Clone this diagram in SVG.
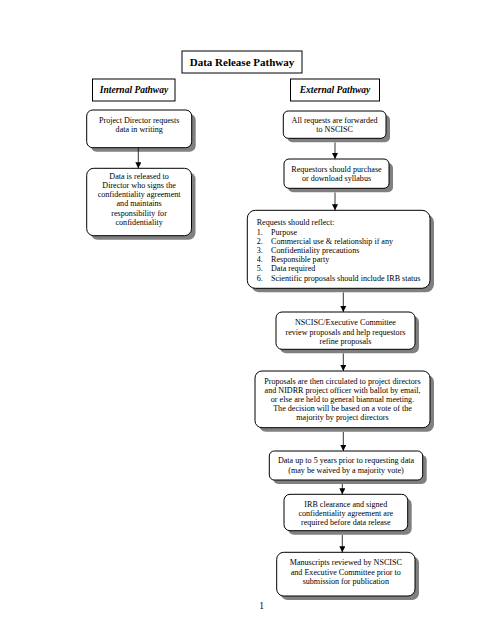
<svg xmlns="http://www.w3.org/2000/svg" width="495" height="640" viewBox="0 0 495 640">
<defs>
<marker id="ah" viewBox="0 0 6 6" refX="6" refY="3" markerWidth="6" markerHeight="6" markerUnits="userSpaceOnUse" orient="auto">
<path d="M0,0 L6,3 L0,6 Z" fill="#000"/>
</marker>
</defs>
<style>
text{font-family:"Liberation Serif","Times New Roman",serif;fill:#000}
.t{font-size:8.1px;text-anchor:middle}
.l{font-size:8.1px}
.hd{fill:#fff;stroke:#000;stroke-width:1}
.sh{fill:#808080;stroke:none}
.bx{fill:#fff;stroke:#000;stroke-width:1}
.cn line{stroke:#000;stroke-width:0.8;marker-end:url(#ah)}
</style>
<rect width="495" height="640" fill="#fff"/>
<g id="title">
<rect class="hd" x="182" y="51" width="120" height="22"/>
<text x="242" y="66" text-anchor="middle" font-size="11" font-weight="bold">Data Release Pathway</text>
</g>
<g id="internal-head">
<rect class="hd" x="92.5" y="79" width="82.5" height="22"/>
<text x="134" y="93.3" text-anchor="middle" font-size="9.5" font-weight="bold" font-style="italic">Internal Pathway</text>
</g>
<g id="external-head">
<rect class="hd" x="290.5" y="79" width="89" height="22"/>
<text x="335" y="93.3" text-anchor="middle" font-size="9.5" font-weight="bold" font-style="italic">External Pathway</text>
</g>
<g id="n-int1">
<rect class="sh" x="90.7" y="114" width="105" height="37.7" rx="6"/>
<rect class="bx" x="86.7" y="110" width="105" height="37.7" rx="6"/>
<text class="t" x="139.2" y="122.7">Project Director requests<tspan x="139.2" dy="9.3">data in writing</tspan></text>
</g>
<g id="n-int2">
<rect class="sh" x="90.7" y="172.3" width="104.8" height="67.4" rx="7"/>
<rect class="bx" x="86.7" y="168.3" width="104.8" height="67.4" rx="7"/>
<text class="t" x="139.1" y="178.5">Data is released to<tspan x="139.1" dy="9.3">Director who signs the</tspan><tspan x="139.1" dy="9.3">confidentiality agreement</tspan><tspan x="139.1" dy="9.3">and maintains</tspan><tspan x="139.1" dy="9.3">responsibility for</tspan><tspan x="139.1" dy="9.3">confidentiality</tspan></text>
</g>
<g id="n-ext1">
<rect class="sh" x="287.3" y="115" width="102.7" height="27.3" rx="5"/>
<rect class="bx" x="283.3" y="111" width="102.7" height="27.3" rx="5"/>
<text class="t" x="334.6" y="123.4">All requests are forwarded<tspan x="334.6" dy="8.6">to NSCISC</tspan></text>
</g>
<g id="n-ext2">
<rect class="sh" x="288" y="163" width="105" height="29.3" rx="5"/>
<rect class="bx" x="284" y="159" width="105" height="29.3" rx="5"/>
<text class="t" x="336.5" y="172">Requestors should purchase<tspan x="336.5" dy="9">or download syllabus</tspan></text>
</g>
<g id="n-ext3">
<rect class="sh" x="251.3" y="214.3" width="182.7" height="78" rx="8"/>
<rect class="bx" x="247.3" y="210.3" width="182.7" height="78" rx="8"/>
<text class="l" x="256.7" y="225.4">Requests should reflect:</text>
<text class="l" x="256.7" y="234.6">1.</text><text class="l" x="271" y="234.6">Purpose</text>
<text class="l" x="256.7" y="243.8">2.</text><text class="l" x="271" y="243.8">Commercial use &amp; relationship if any</text>
<text class="l" x="256.7" y="253">3.</text><text class="l" x="271" y="253">Confidentiality precautions</text>
<text class="l" x="256.7" y="262.2">4.</text><text class="l" x="271" y="262.2">Responsible party</text>
<text class="l" x="256.7" y="271.4">5.</text><text class="l" x="271" y="271.4">Data required</text>
<text class="l" x="256.7" y="280.6">6.</text><text class="l" x="271" y="280.6">Scientific proposals should include IRB status</text>
</g>
<g id="n-ext4">
<rect class="sh" x="280" y="316" width="139" height="37.3" rx="6"/>
<rect class="bx" x="276" y="312" width="139" height="37.3" rx="6"/>
<text class="t" x="345.5" y="325.4">NSCISC/Executive Committee<tspan x="345.5" dy="9.2">review proposals and help requestors</tspan><tspan x="345.5" dy="9.2">refine proposals</tspan></text>
</g>
<g id="n-ext5">
<rect class="sh" x="259" y="375" width="175" height="56.7" rx="7"/>
<rect class="bx" x="255" y="371" width="175" height="56.7" rx="7"/>
<text class="t" x="342.5" y="383.7">Proposals are then circulated to project directors<tspan x="342.5" dy="9">and NIDRR project officer with ballot by email,</tspan><tspan x="342.5" dy="9">or else are held to general biannual meeting.</tspan><tspan x="342.5" dy="9">The decision will be based on a vote of the</tspan><tspan x="342.5" dy="9">majority by project directors</tspan></text>
</g>
<g id="n-ext6">
<rect class="sh" x="273.3" y="455" width="153.4" height="29" rx="5"/>
<rect class="bx" x="269.3" y="451" width="153.4" height="29" rx="5"/>
<text class="t" x="346" y="463.4">Data up to 5 years prior to requesting data<tspan x="346" dy="9.3">(may be waived by a majority vote)</tspan></text>
</g>
<g id="n-ext7">
<rect class="sh" x="288" y="498.3" width="123.7" height="36.4" rx="6"/>
<rect class="bx" x="284" y="494.3" width="123.7" height="36.4" rx="6"/>
<text class="t" x="345.8" y="506.7">IRB clearance and signed<tspan x="345.8" dy="9.2">confidentiality agreement are</tspan><tspan x="345.8" dy="9.2">required before data release</tspan></text>
</g>
<g id="n-ext8">
<rect class="sh" x="280.7" y="556.3" width="138.3" height="43.7" rx="7"/>
<rect class="bx" x="276.7" y="552.3" width="138.3" height="43.7" rx="7"/>
<text class="t" x="345.8" y="565.4">Manuscripts reviewed by NSCISC<tspan x="345.8" dy="9.3">and Executive Committee prior to</tspan><tspan x="345.8" dy="9.3">submission for publication</tspan></text>
</g>
<g id="connectors" class="cn">
<line x1="138.3" y1="147.7" x2="138.3" y2="168.3"/>
<line x1="335" y1="142.5" x2="335" y2="159"/>
<line x1="335" y1="192.5" x2="335" y2="210.3"/>
<line x1="343.3" y1="292.5" x2="343.3" y2="312"/>
<line x1="343.3" y1="353.5" x2="343.3" y2="371"/>
<line x1="343.3" y1="432" x2="343.3" y2="451"/>
<line x1="342.3" y1="484" x2="342.3" y2="494.3"/>
<line x1="342.3" y1="535" x2="342.3" y2="552.3"/>
</g>
<text x="261.7" y="609" font-size="9.5" text-anchor="middle">1</text>
</svg>
